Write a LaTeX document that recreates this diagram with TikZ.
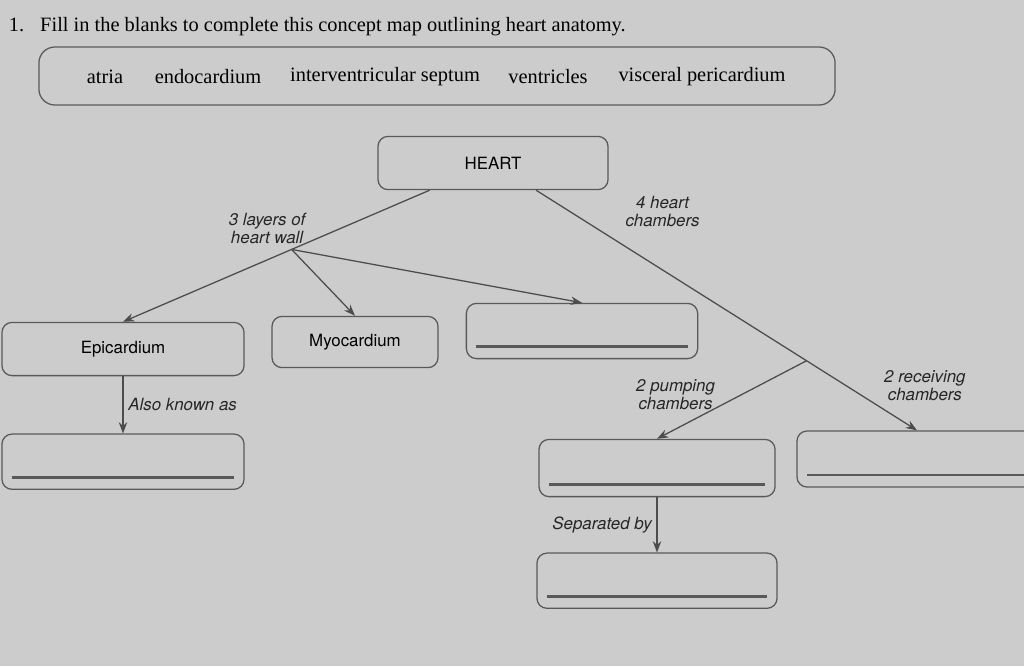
\documentclass[tikz,border=0pt]{standalone}
\usepackage{fontspec}
\setmainfont{Liberation Serif}
\setsansfont{TeX Gyre Heros}
\usetikzlibrary{positioning,arrows.meta}
\tikzset{
  box/.style={draw=black!65, line width=0.9pt, rounded corners=0.25cm, minimum height=1.33cm, font=\sffamily\fontsize{12}{14}\selectfont},
  blank/.style={box, path picture={\draw[line width=2pt] ([xshift=0.25cm,yshift=0.3cm]path picture bounding box.south west) -- ([xshift=-0.25cm,yshift=0.3cm]path picture bounding box.south east);}},
  link/.style={draw=black!70, line width=0.9pt, -{Stealth[length=8pt,width=6pt]}},
  lbl/.style={font=\sffamily\itshape\fontsize{12}{13}\selectfont, align=center, text=black!85},
  word/.style={font=\fontsize{14.5}{16}\selectfont}
}
\begin{document}
\begin{tikzpicture}[x=0.025cm, y=-0.025cm]
    \fill[black!20] (0,0) rectangle (1024,666);
    \useasboundingbox (0,0) rectangle (1024,666);
    \node (Q) [anchor=west, word] at (4,27) {1.\hspace{0.4cm}Fill in the blanks to complete this concept map outlining heart anatomy.};
    \node (bank) [draw=black!65, line width=0.9pt, rounded corners=0.4cm, minimum width=19.9cm, minimum height=1.45cm] at (437,76) {};
    \node (w1) [word] at (105,77) {atria};
    \node (w2) [word] at (208,77) {endocardium};
    \node (w3) [word] at (385,77) {interventricular septum};
    \node (w4) [word] at (548,77) {ventricles};
    \node (w5) [word] at (702,77) {visceral pericardium};
    \node (H) [box, minimum width=5.75cm] at (493,163) {HEART};
    \node (E) [box, minimum width=6.05cm] at (123,349) {Epicardium};
    \node (M) [box, minimum width=4.15cm, minimum height=1.28cm] at (355,342) {Myocardium};
    \node (W) [blank, minimum width=5.78cm, minimum height=1.38cm] at (582,331) {};
    \node (E2) [blank, minimum width=6.05cm, minimum height=1.38cm, below=1.43cm of E] {};
    \node (P) [blank, minimum width=5.9cm, minimum height=1.43cm] at (657,468) {};
    \node (R) [blank, minimum width=6cm, minimum height=1.4cm] at (917,459) {};
    \node (S) [blank, minimum width=6cm, minimum height=1.38cm, below=1.38cm of P] {};
    \draw[link] (H) -- coordinate[pos=0.45] (B1) node[lbl, pos=0.29, left=0.75cm] {3 layers of\\heart wall} (E.north);
    \draw[link] (B1) -- (M.north);
    \draw[link] (B1) -- (W.north);
    \draw[link] (H) -- coordinate[pos=0.71] (B2) node[lbl, pos=0.2, above right, xshift=0.2cm, yshift=0.15cm] {4 heart\\chambers} node[lbl, pos=0.9, above right] {2 receiving\\chambers} (R.north);
    \draw[link] (B2) -- node[lbl, pos=0.43, left=0.55cm] {2 pumping\\chambers} (P.north);
    \draw[link] (E) -- node[lbl, right] {Also known as} (E2);
    \draw[link] (P) -- node[lbl, left] {Separated by} (S);
\end{tikzpicture}
\end{document}
